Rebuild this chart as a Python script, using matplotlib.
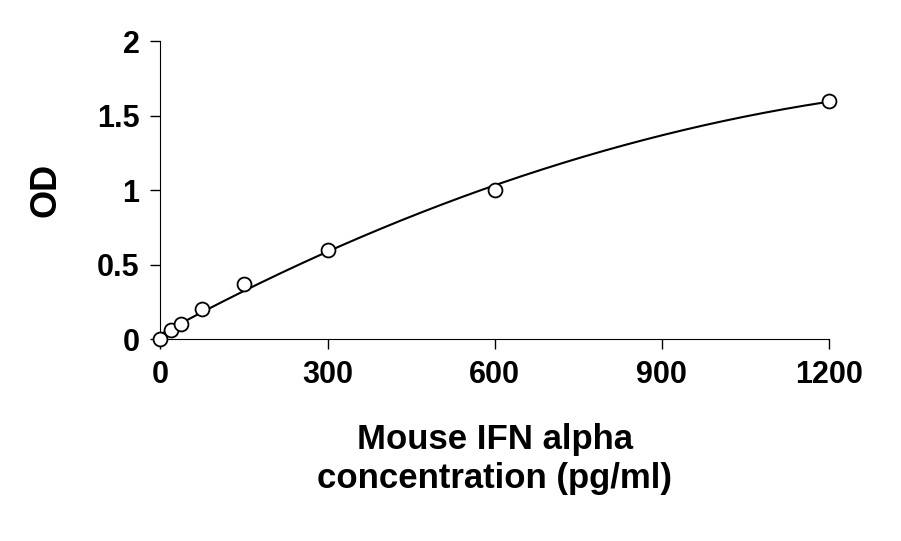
import matplotlib
matplotlib.use("Agg")
import matplotlib.pyplot as plt
import numpy as np

plt.rcParams['font.family'] = ['Liberation Sans', 'DejaVu Sans']
plt.rcParams['font.weight'] = 'bold'

conc = [0, 18.75, 37.5, 75, 150, 300, 600, 1200]
od = [0.0, 0.06, 0.10, 0.20, 0.37, 0.60, 1.00, 1.60]

# trendline (polynomial fit, like the spreadsheet one)
coef = np.polyfit(conc, od, 2)
xs = np.linspace(0, 1200, 300)
ys = np.polyval(coef, xs)

fig = plt.figure(figsize=(9.01, 5.41), dpi=100)
ax = fig.add_axes([0.178, 0.373, 0.742, 0.551])
ax.plot(xs, ys, color='black', lw=1.5)
ax.plot(conc, od, 'o', mfc='white', mec='black', ms=10, mew=1.3, clip_on=False, zorder=5)

ax.set_xlim(0, 1200)
ax.set_ylim(0, 2)
ax.set_xticks([0, 300, 600, 900, 1200])
ax.set_yticks([0, 0.5, 1, 1.5, 2])
ax.set_yticklabels(['0', '0.5', '1', '1.5', '2'])
for s in ['top', 'right']:
    ax.spines[s].set_visible(False)
ax.tick_params(direction='out', length=7, width=1, labelsize=22, pad=8)
for lab in ax.get_xticklabels() + ax.get_yticklabels():
    lab.set_fontweight('bold')
ax.set_xlabel('Mouse IFN alpha\nconcentration (pg/ml)', fontsize=25, fontweight='bold', labelpad=24)
ax.set_ylabel('OD', fontsize=26, fontweight='bold', labelpad=24)

fig.savefig('out.png', dpi=100)
